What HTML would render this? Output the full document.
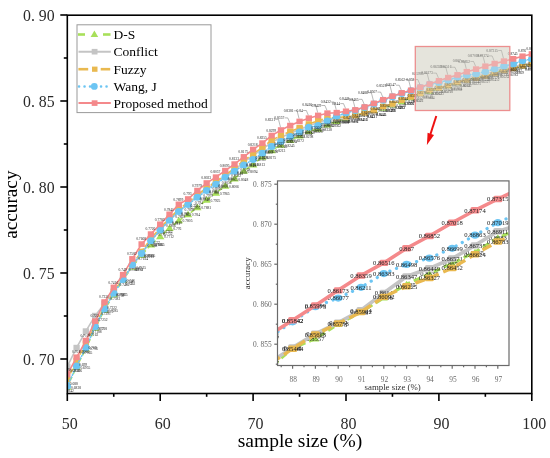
<!DOCTYPE html><html><head><meta charset="utf-8"><style>html,body{margin:0;padding:0;background:#fff;width:550px;height:458px;overflow:hidden}svg{display:block}text{font-family:"Liberation Serif",serif}</style></head><body>
<svg width="550" height="458" viewBox="0 0 550 458">
<rect width="550" height="458" fill="#fff"/>
<defs><clipPath id="cm"><rect x="67.3" y="15" width="464.5" height="378.5"/></clipPath><clipPath id="ci"><rect x="277.5" y="180.9" width="231.5" height="184.6"/></clipPath></defs>
<rect x="415.3" y="46.5" width="94.5" height="64" fill="#e6e4dc"/>
<g clip-path="url(#cm)">
<polyline points="67.3,386.86 76.59,366.74 85.88,348.68 95.17,328.04 104.46,309.98 113.75,294.5 123.04,279.88 132.33,266.98 141.62,254.94 150.91,244.62 160.2,236.54 169.49,228.28 178.78,220.54 188.07,214.52 197.36,207.47 206.65,199.9 215.94,193.02 225.23,185.97 234.52,178.74 243.81,170.83 253.1,164.64 262.39,156.9 271.68,150.36 280.97,144.86 290.26,140.22 299.55,135.74 308.84,131.1 318.13,128.86 327.42,124.74 336.71,121.12 346,118.54 355.29,115.1 364.58,112.7 373.87,110.29 383.16,107.88 392.45,104.78 401.74,101.34 411.03,97.56 420.32,93.26 429.61,91.2 438.9,88.1 448.19,85.52 457.48,82.42 466.77,79.5 476.06,77.26 485.35,75.03 494.64,72.62 503.93,69.52 513.22,67.46 522.51,65.4 531.8,63.5" fill="none" stroke="#a8e05a" stroke-width="1.6" stroke-dasharray="4 3" stroke-linecap="butt"/>
<polygon points="67.3,383.06 63.1,389.66 71.5,389.66" fill="#a8e05a"/>
<polygon points="76.59,362.94 72.39,369.54 80.79,369.54" fill="#a8e05a"/>
<polygon points="85.88,344.88 81.68,351.48 90.08,351.48" fill="#a8e05a"/>
<polygon points="95.17,324.24 90.97,330.84 99.37,330.84" fill="#a8e05a"/>
<polygon points="104.46,306.18 100.26,312.78 108.66,312.78" fill="#a8e05a"/>
<polygon points="113.75,290.7 109.55,297.3 117.95,297.3" fill="#a8e05a"/>
<polygon points="123.04,276.08 118.84,282.68 127.24,282.68" fill="#a8e05a"/>
<polygon points="132.33,263.18 128.13,269.78 136.53,269.78" fill="#a8e05a"/>
<polygon points="141.62,251.14 137.42,257.74 145.82,257.74" fill="#a8e05a"/>
<polygon points="150.91,240.82 146.71,247.42 155.11,247.42" fill="#a8e05a"/>
<polygon points="160.2,232.74 156,239.34 164.4,239.34" fill="#a8e05a"/>
<polygon points="169.49,224.48 165.29,231.08 173.69,231.08" fill="#a8e05a"/>
<polygon points="178.78,216.74 174.58,223.34 182.98,223.34" fill="#a8e05a"/>
<polygon points="188.07,210.72 183.87,217.32 192.27,217.32" fill="#a8e05a"/>
<polygon points="197.36,203.67 193.16,210.27 201.56,210.27" fill="#a8e05a"/>
<polygon points="206.65,196.1 202.45,202.7 210.85,202.7" fill="#a8e05a"/>
<polygon points="215.94,189.22 211.74,195.82 220.14,195.82" fill="#a8e05a"/>
<polygon points="225.23,182.17 221.03,188.77 229.43,188.77" fill="#a8e05a"/>
<polygon points="234.52,174.94 230.32,181.54 238.72,181.54" fill="#a8e05a"/>
<polygon points="243.81,167.03 239.61,173.63 248.01,173.63" fill="#a8e05a"/>
<polygon points="253.1,160.84 248.9,167.44 257.3,167.44" fill="#a8e05a"/>
<polygon points="262.39,153.1 258.19,159.7 266.59,159.7" fill="#a8e05a"/>
<polygon points="271.68,146.56 267.48,153.16 275.88,153.16" fill="#a8e05a"/>
<polygon points="280.97,141.06 276.77,147.66 285.17,147.66" fill="#a8e05a"/>
<polygon points="290.26,136.42 286.06,143.02 294.46,143.02" fill="#a8e05a"/>
<polygon points="299.55,131.94 295.35,138.54 303.75,138.54" fill="#a8e05a"/>
<polygon points="308.84,127.3 304.64,133.9 313.04,133.9" fill="#a8e05a"/>
<polygon points="318.13,125.06 313.93,131.66 322.33,131.66" fill="#a8e05a"/>
<polygon points="327.42,120.94 323.22,127.54 331.62,127.54" fill="#a8e05a"/>
<polygon points="336.71,117.32 332.51,123.92 340.91,123.92" fill="#a8e05a"/>
<polygon points="346,114.74 341.8,121.34 350.2,121.34" fill="#a8e05a"/>
<polygon points="355.29,111.3 351.09,117.9 359.49,117.9" fill="#a8e05a"/>
<polygon points="364.58,108.9 360.38,115.5 368.78,115.5" fill="#a8e05a"/>
<polygon points="373.87,106.49 369.67,113.09 378.07,113.09" fill="#a8e05a"/>
<polygon points="383.16,104.08 378.96,110.68 387.36,110.68" fill="#a8e05a"/>
<polygon points="392.45,100.98 388.25,107.58 396.65,107.58" fill="#a8e05a"/>
<polygon points="401.74,97.54 397.54,104.14 405.94,104.14" fill="#a8e05a"/>
<polygon points="411.03,93.76 406.83,100.36 415.23,100.36" fill="#a8e05a"/>
<polygon points="420.32,89.46 416.12,96.06 424.52,96.06" fill="#a8e05a"/>
<polygon points="429.61,87.4 425.41,94 433.81,94" fill="#a8e05a"/>
<polygon points="438.9,84.3 434.7,90.9 443.1,90.9" fill="#a8e05a"/>
<polygon points="448.19,81.72 443.99,88.32 452.39,88.32" fill="#a8e05a"/>
<polygon points="457.48,78.62 453.28,85.22 461.68,85.22" fill="#a8e05a"/>
<polygon points="466.77,75.7 462.57,82.3 470.97,82.3" fill="#a8e05a"/>
<polygon points="476.06,73.46 471.86,80.06 480.26,80.06" fill="#a8e05a"/>
<polygon points="485.35,71.23 481.15,77.83 489.55,77.83" fill="#a8e05a"/>
<polygon points="494.64,68.82 490.44,75.42 498.84,75.42" fill="#a8e05a"/>
<polygon points="503.93,65.72 499.73,72.32 508.13,72.32" fill="#a8e05a"/>
<polygon points="513.22,63.66 509.02,70.26 517.42,70.26" fill="#a8e05a"/>
<polygon points="522.51,61.6 518.31,68.2 526.71,68.2" fill="#a8e05a"/>
<polygon points="531.8,59.7 527.6,66.3 536,66.3" fill="#a8e05a"/>
<polyline points="67.3,366.57 76.59,347.65 85.88,331.14 95.17,315.66 104.46,303.62 113.75,291.06 123.04,279.54 132.33,266.12 141.62,253.22 150.91,241.18 160.2,229.66 169.49,219.68 178.78,210.74 188.07,203.34 197.36,195.94 206.65,189.06 215.94,182.7 225.23,176.16 234.52,169.8 243.81,162.06 253.1,155.52 262.39,149.16 271.68,142.28 280.97,137.46 290.26,133.16 299.55,129.55 308.84,125.77 318.13,122.5 327.42,119.58 336.71,118.54 346,117.51 355.29,115.96 364.58,113.04 373.87,110.46 383.16,106.85 392.45,103.92 401.74,99.97 411.03,96.36 420.32,93.09 429.61,90.16 438.9,87.76 448.19,85.11 457.48,81.39 466.77,77.83 476.06,76.08 485.35,73.98 494.64,71.16 503.93,68.13 513.22,66.6 522.51,64.54 531.8,62.82" fill="none" stroke="#c4c4c4" stroke-width="1.6" stroke-linecap="butt"/>
<rect x="64.15" y="363.72" width="6.3" height="5.7" fill="#c4c4c4"/>
<rect x="73.44" y="344.8" width="6.3" height="5.7" fill="#c4c4c4"/>
<rect x="82.73" y="328.29" width="6.3" height="5.7" fill="#c4c4c4"/>
<rect x="92.02" y="312.81" width="6.3" height="5.7" fill="#c4c4c4"/>
<rect x="101.31" y="300.77" width="6.3" height="5.7" fill="#c4c4c4"/>
<rect x="110.6" y="288.21" width="6.3" height="5.7" fill="#c4c4c4"/>
<rect x="119.89" y="276.69" width="6.3" height="5.7" fill="#c4c4c4"/>
<rect x="129.18" y="263.27" width="6.3" height="5.7" fill="#c4c4c4"/>
<rect x="138.47" y="250.37" width="6.3" height="5.7" fill="#c4c4c4"/>
<rect x="147.76" y="238.33" width="6.3" height="5.7" fill="#c4c4c4"/>
<rect x="157.05" y="226.81" width="6.3" height="5.7" fill="#c4c4c4"/>
<rect x="166.34" y="216.83" width="6.3" height="5.7" fill="#c4c4c4"/>
<rect x="175.63" y="207.89" width="6.3" height="5.7" fill="#c4c4c4"/>
<rect x="184.92" y="200.49" width="6.3" height="5.7" fill="#c4c4c4"/>
<rect x="194.21" y="193.09" width="6.3" height="5.7" fill="#c4c4c4"/>
<rect x="203.5" y="186.21" width="6.3" height="5.7" fill="#c4c4c4"/>
<rect x="212.79" y="179.85" width="6.3" height="5.7" fill="#c4c4c4"/>
<rect x="222.08" y="173.31" width="6.3" height="5.7" fill="#c4c4c4"/>
<rect x="231.37" y="166.95" width="6.3" height="5.7" fill="#c4c4c4"/>
<rect x="240.66" y="159.21" width="6.3" height="5.7" fill="#c4c4c4"/>
<rect x="249.95" y="152.67" width="6.3" height="5.7" fill="#c4c4c4"/>
<rect x="259.24" y="146.31" width="6.3" height="5.7" fill="#c4c4c4"/>
<rect x="268.53" y="139.43" width="6.3" height="5.7" fill="#c4c4c4"/>
<rect x="277.82" y="134.61" width="6.3" height="5.7" fill="#c4c4c4"/>
<rect x="287.11" y="130.31" width="6.3" height="5.7" fill="#c4c4c4"/>
<rect x="296.4" y="126.7" width="6.3" height="5.7" fill="#c4c4c4"/>
<rect x="305.69" y="122.92" width="6.3" height="5.7" fill="#c4c4c4"/>
<rect x="314.98" y="119.65" width="6.3" height="5.7" fill="#c4c4c4"/>
<rect x="324.27" y="116.73" width="6.3" height="5.7" fill="#c4c4c4"/>
<rect x="333.56" y="115.69" width="6.3" height="5.7" fill="#c4c4c4"/>
<rect x="342.85" y="114.66" width="6.3" height="5.7" fill="#c4c4c4"/>
<rect x="352.14" y="113.11" width="6.3" height="5.7" fill="#c4c4c4"/>
<rect x="361.43" y="110.19" width="6.3" height="5.7" fill="#c4c4c4"/>
<rect x="370.72" y="107.61" width="6.3" height="5.7" fill="#c4c4c4"/>
<rect x="380.01" y="104" width="6.3" height="5.7" fill="#c4c4c4"/>
<rect x="389.3" y="101.07" width="6.3" height="5.7" fill="#c4c4c4"/>
<rect x="398.59" y="97.12" width="6.3" height="5.7" fill="#c4c4c4"/>
<rect x="407.88" y="93.51" width="6.3" height="5.7" fill="#c4c4c4"/>
<rect x="417.17" y="90.24" width="6.3" height="5.7" fill="#c4c4c4"/>
<rect x="426.46" y="87.31" width="6.3" height="5.7" fill="#c4c4c4"/>
<rect x="435.75" y="84.91" width="6.3" height="5.7" fill="#c4c4c4"/>
<rect x="445.04" y="82.26" width="6.3" height="5.7" fill="#c4c4c4"/>
<rect x="454.33" y="78.54" width="6.3" height="5.7" fill="#c4c4c4"/>
<rect x="463.62" y="74.98" width="6.3" height="5.7" fill="#c4c4c4"/>
<rect x="472.91" y="73.23" width="6.3" height="5.7" fill="#c4c4c4"/>
<rect x="482.2" y="71.13" width="6.3" height="5.7" fill="#c4c4c4"/>
<rect x="491.49" y="68.31" width="6.3" height="5.7" fill="#c4c4c4"/>
<rect x="500.78" y="65.28" width="6.3" height="5.7" fill="#c4c4c4"/>
<rect x="510.07" y="63.75" width="6.3" height="5.7" fill="#c4c4c4"/>
<rect x="519.36" y="61.69" width="6.3" height="5.7" fill="#c4c4c4"/>
<rect x="528.65" y="59.97" width="6.3" height="5.7" fill="#c4c4c4"/>
<polyline points="67.3,379.64 76.59,360.72 85.88,343.52 95.17,324.6 104.46,307.4 113.75,291.92 123.04,278.16 132.33,264.4 141.62,251.5 150.91,238.6 160.2,227.94 169.49,218.3 178.78,209.36 188.07,202.14 197.36,194.74 206.65,187.86 215.94,181.5 225.23,174.96 234.52,168.42 243.81,160.51 253.1,153.98 262.39,147.44 271.68,140.22 280.97,135.57 290.26,131.27 299.55,127.83 308.84,124.05 318.13,120.78 327.42,118.03 336.71,117.51 346,116.82 355.29,115.45 364.58,112.87 373.87,110.46 383.16,106.5 392.45,103.92 401.74,100.14 411.03,96.7 420.32,93.36 429.61,90.28 438.9,87.96 448.19,85.49 457.48,82.22 466.77,79.93 476.06,78.18 485.35,76.03 494.64,73.07 503.93,70.33 513.22,68.32 522.51,65.74 531.8,64.02" fill="none" stroke="#e9b950" stroke-width="1.6" stroke-dasharray="5 2" stroke-linecap="butt"/>
<rect x="64.15" y="376.79" width="6.3" height="5.7" fill="#e9b950"/>
<rect x="73.44" y="357.87" width="6.3" height="5.7" fill="#e9b950"/>
<rect x="82.73" y="340.67" width="6.3" height="5.7" fill="#e9b950"/>
<rect x="92.02" y="321.75" width="6.3" height="5.7" fill="#e9b950"/>
<rect x="101.31" y="304.55" width="6.3" height="5.7" fill="#e9b950"/>
<rect x="110.6" y="289.07" width="6.3" height="5.7" fill="#e9b950"/>
<rect x="119.89" y="275.31" width="6.3" height="5.7" fill="#e9b950"/>
<rect x="129.18" y="261.55" width="6.3" height="5.7" fill="#e9b950"/>
<rect x="138.47" y="248.65" width="6.3" height="5.7" fill="#e9b950"/>
<rect x="147.76" y="235.75" width="6.3" height="5.7" fill="#e9b950"/>
<rect x="157.05" y="225.09" width="6.3" height="5.7" fill="#e9b950"/>
<rect x="166.34" y="215.45" width="6.3" height="5.7" fill="#e9b950"/>
<rect x="175.63" y="206.51" width="6.3" height="5.7" fill="#e9b950"/>
<rect x="184.92" y="199.29" width="6.3" height="5.7" fill="#e9b950"/>
<rect x="194.21" y="191.89" width="6.3" height="5.7" fill="#e9b950"/>
<rect x="203.5" y="185.01" width="6.3" height="5.7" fill="#e9b950"/>
<rect x="212.79" y="178.65" width="6.3" height="5.7" fill="#e9b950"/>
<rect x="222.08" y="172.11" width="6.3" height="5.7" fill="#e9b950"/>
<rect x="231.37" y="165.57" width="6.3" height="5.7" fill="#e9b950"/>
<rect x="240.66" y="157.66" width="6.3" height="5.7" fill="#e9b950"/>
<rect x="249.95" y="151.13" width="6.3" height="5.7" fill="#e9b950"/>
<rect x="259.24" y="144.59" width="6.3" height="5.7" fill="#e9b950"/>
<rect x="268.53" y="137.37" width="6.3" height="5.7" fill="#e9b950"/>
<rect x="277.82" y="132.72" width="6.3" height="5.7" fill="#e9b950"/>
<rect x="287.11" y="128.42" width="6.3" height="5.7" fill="#e9b950"/>
<rect x="296.4" y="124.98" width="6.3" height="5.7" fill="#e9b950"/>
<rect x="305.69" y="121.2" width="6.3" height="5.7" fill="#e9b950"/>
<rect x="314.98" y="117.93" width="6.3" height="5.7" fill="#e9b950"/>
<rect x="324.27" y="115.18" width="6.3" height="5.7" fill="#e9b950"/>
<rect x="333.56" y="114.66" width="6.3" height="5.7" fill="#e9b950"/>
<rect x="342.85" y="113.97" width="6.3" height="5.7" fill="#e9b950"/>
<rect x="352.14" y="112.6" width="6.3" height="5.7" fill="#e9b950"/>
<rect x="361.43" y="110.02" width="6.3" height="5.7" fill="#e9b950"/>
<rect x="370.72" y="107.61" width="6.3" height="5.7" fill="#e9b950"/>
<rect x="380.01" y="103.65" width="6.3" height="5.7" fill="#e9b950"/>
<rect x="389.3" y="101.07" width="6.3" height="5.7" fill="#e9b950"/>
<rect x="398.59" y="97.29" width="6.3" height="5.7" fill="#e9b950"/>
<rect x="407.88" y="93.85" width="6.3" height="5.7" fill="#e9b950"/>
<rect x="417.17" y="90.51" width="6.3" height="5.7" fill="#e9b950"/>
<rect x="426.46" y="87.43" width="6.3" height="5.7" fill="#e9b950"/>
<rect x="435.75" y="85.11" width="6.3" height="5.7" fill="#e9b950"/>
<rect x="445.04" y="82.64" width="6.3" height="5.7" fill="#e9b950"/>
<rect x="454.33" y="79.37" width="6.3" height="5.7" fill="#e9b950"/>
<rect x="463.62" y="77.08" width="6.3" height="5.7" fill="#e9b950"/>
<rect x="472.91" y="75.33" width="6.3" height="5.7" fill="#e9b950"/>
<rect x="482.2" y="73.18" width="6.3" height="5.7" fill="#e9b950"/>
<rect x="491.49" y="70.22" width="6.3" height="5.7" fill="#e9b950"/>
<rect x="500.78" y="67.48" width="6.3" height="5.7" fill="#e9b950"/>
<rect x="510.07" y="65.47" width="6.3" height="5.7" fill="#e9b950"/>
<rect x="519.36" y="62.89" width="6.3" height="5.7" fill="#e9b950"/>
<rect x="528.65" y="61.17" width="6.3" height="5.7" fill="#e9b950"/>
<polyline points="67.3,386.18 76.59,365.88 85.88,347.82 95.17,326.66 104.46,308.95 113.75,293.3 123.04,279.54 132.33,264.74 141.62,253.39 150.91,240.66 160.2,230 169.49,220.37 178.78,211.42 188.07,204.54 197.36,197.32 206.65,190.61 215.94,184.25 225.23,177.37 234.52,171.18 243.81,164.98 253.1,159.48 262.39,153.29 271.68,146.41 280.97,141.42 290.26,136.43 299.55,131.96 308.84,127.32 318.13,125.6 327.42,120.95 336.71,116.14 346,113.04 355.29,110.46 364.58,107.54 373.87,103.92 383.16,100.31 392.45,96.7 401.74,93.43 411.03,90.85 420.32,87.58 429.61,84.32 438.9,82.48 448.19,80.17 457.48,77.21 466.77,75.23 476.06,73.89 485.35,71.78 494.64,68.96 503.93,66.27 513.22,64.02 522.51,60.75 531.8,59.03" fill="none" stroke="#6cc5f3" stroke-width="1.6" stroke-dasharray="1 2" stroke-linecap="round"/>
<ellipse cx="67.3" cy="386.18" rx="3.8" ry="3.5" fill="#6cc5f3"/>
<ellipse cx="76.59" cy="365.88" rx="3.8" ry="3.5" fill="#6cc5f3"/>
<ellipse cx="85.88" cy="347.82" rx="3.8" ry="3.5" fill="#6cc5f3"/>
<ellipse cx="95.17" cy="326.66" rx="3.8" ry="3.5" fill="#6cc5f3"/>
<ellipse cx="104.46" cy="308.95" rx="3.8" ry="3.5" fill="#6cc5f3"/>
<ellipse cx="113.75" cy="293.3" rx="3.8" ry="3.5" fill="#6cc5f3"/>
<ellipse cx="123.04" cy="279.54" rx="3.8" ry="3.5" fill="#6cc5f3"/>
<ellipse cx="132.33" cy="264.74" rx="3.8" ry="3.5" fill="#6cc5f3"/>
<ellipse cx="141.62" cy="253.39" rx="3.8" ry="3.5" fill="#6cc5f3"/>
<ellipse cx="150.91" cy="240.66" rx="3.8" ry="3.5" fill="#6cc5f3"/>
<ellipse cx="160.2" cy="230" rx="3.8" ry="3.5" fill="#6cc5f3"/>
<ellipse cx="169.49" cy="220.37" rx="3.8" ry="3.5" fill="#6cc5f3"/>
<ellipse cx="178.78" cy="211.42" rx="3.8" ry="3.5" fill="#6cc5f3"/>
<ellipse cx="188.07" cy="204.54" rx="3.8" ry="3.5" fill="#6cc5f3"/>
<ellipse cx="197.36" cy="197.32" rx="3.8" ry="3.5" fill="#6cc5f3"/>
<ellipse cx="206.65" cy="190.61" rx="3.8" ry="3.5" fill="#6cc5f3"/>
<ellipse cx="215.94" cy="184.25" rx="3.8" ry="3.5" fill="#6cc5f3"/>
<ellipse cx="225.23" cy="177.37" rx="3.8" ry="3.5" fill="#6cc5f3"/>
<ellipse cx="234.52" cy="171.18" rx="3.8" ry="3.5" fill="#6cc5f3"/>
<ellipse cx="243.81" cy="164.98" rx="3.8" ry="3.5" fill="#6cc5f3"/>
<ellipse cx="253.1" cy="159.48" rx="3.8" ry="3.5" fill="#6cc5f3"/>
<ellipse cx="262.39" cy="153.29" rx="3.8" ry="3.5" fill="#6cc5f3"/>
<ellipse cx="271.68" cy="146.41" rx="3.8" ry="3.5" fill="#6cc5f3"/>
<ellipse cx="280.97" cy="141.42" rx="3.8" ry="3.5" fill="#6cc5f3"/>
<ellipse cx="290.26" cy="136.43" rx="3.8" ry="3.5" fill="#6cc5f3"/>
<ellipse cx="299.55" cy="131.96" rx="3.8" ry="3.5" fill="#6cc5f3"/>
<ellipse cx="308.84" cy="127.32" rx="3.8" ry="3.5" fill="#6cc5f3"/>
<ellipse cx="318.13" cy="125.6" rx="3.8" ry="3.5" fill="#6cc5f3"/>
<ellipse cx="327.42" cy="120.95" rx="3.8" ry="3.5" fill="#6cc5f3"/>
<ellipse cx="336.71" cy="116.14" rx="3.8" ry="3.5" fill="#6cc5f3"/>
<ellipse cx="346" cy="113.04" rx="3.8" ry="3.5" fill="#6cc5f3"/>
<ellipse cx="355.29" cy="110.46" rx="3.8" ry="3.5" fill="#6cc5f3"/>
<ellipse cx="364.58" cy="107.54" rx="3.8" ry="3.5" fill="#6cc5f3"/>
<ellipse cx="373.87" cy="103.92" rx="3.8" ry="3.5" fill="#6cc5f3"/>
<ellipse cx="383.16" cy="100.31" rx="3.8" ry="3.5" fill="#6cc5f3"/>
<ellipse cx="392.45" cy="96.7" rx="3.8" ry="3.5" fill="#6cc5f3"/>
<ellipse cx="401.74" cy="93.43" rx="3.8" ry="3.5" fill="#6cc5f3"/>
<ellipse cx="411.03" cy="90.85" rx="3.8" ry="3.5" fill="#6cc5f3"/>
<ellipse cx="420.32" cy="87.58" rx="3.8" ry="3.5" fill="#6cc5f3"/>
<ellipse cx="429.61" cy="84.32" rx="3.8" ry="3.5" fill="#6cc5f3"/>
<ellipse cx="438.9" cy="82.48" rx="3.8" ry="3.5" fill="#6cc5f3"/>
<ellipse cx="448.19" cy="80.17" rx="3.8" ry="3.5" fill="#6cc5f3"/>
<ellipse cx="457.48" cy="77.21" rx="3.8" ry="3.5" fill="#6cc5f3"/>
<ellipse cx="466.77" cy="75.23" rx="3.8" ry="3.5" fill="#6cc5f3"/>
<ellipse cx="476.06" cy="73.89" rx="3.8" ry="3.5" fill="#6cc5f3"/>
<ellipse cx="485.35" cy="71.78" rx="3.8" ry="3.5" fill="#6cc5f3"/>
<ellipse cx="494.64" cy="68.96" rx="3.8" ry="3.5" fill="#6cc5f3"/>
<ellipse cx="503.93" cy="66.27" rx="3.8" ry="3.5" fill="#6cc5f3"/>
<ellipse cx="513.22" cy="64.02" rx="3.8" ry="3.5" fill="#6cc5f3"/>
<ellipse cx="522.51" cy="60.75" rx="3.8" ry="3.5" fill="#6cc5f3"/>
<ellipse cx="531.8" cy="59.03" rx="3.8" ry="3.5" fill="#6cc5f3"/>
<polyline points="67.3,374.48 76.59,357.28 85.88,340.6 95.17,321.16 104.46,302.07 113.75,287.45 123.04,274.72 132.33,258.9 141.62,244.1 150.91,234.13 160.2,224.32 169.49,214.35 178.78,204.37 188.07,199.04 197.36,190.61 206.65,183.04 215.94,177.2 225.23,170.66 234.52,164.12 243.81,156.9 253.1,149.5 262.39,143.14 271.68,135.57 280.97,130.07 290.26,125.6 299.55,121.47 308.84,118.2 318.13,115.45 327.42,113.21 336.71,112.7 346,111.32 355.29,109.94 364.58,107.02 373.87,103.41 383.16,99.8 392.45,96.18 401.74,92.92 411.03,90.34 420.32,87.24 429.61,84.06 438.9,80.82 448.19,77.63 457.48,74.92 466.77,71.76 476.06,69.15 485.35,66.29 494.64,63.61 503.93,61.18 513.22,58.86 522.51,56.28 531.8,54.04" fill="none" stroke="#f4898b" stroke-width="1.6" stroke-linecap="butt"/>
<rect x="64.15" y="371.63" width="6.3" height="5.7" fill="#f4898b"/>
<rect x="73.44" y="354.43" width="6.3" height="5.7" fill="#f4898b"/>
<rect x="82.73" y="337.75" width="6.3" height="5.7" fill="#f4898b"/>
<rect x="92.02" y="318.31" width="6.3" height="5.7" fill="#f4898b"/>
<rect x="101.31" y="299.22" width="6.3" height="5.7" fill="#f4898b"/>
<rect x="110.6" y="284.6" width="6.3" height="5.7" fill="#f4898b"/>
<rect x="119.89" y="271.87" width="6.3" height="5.7" fill="#f4898b"/>
<rect x="129.18" y="256.05" width="6.3" height="5.7" fill="#f4898b"/>
<rect x="138.47" y="241.25" width="6.3" height="5.7" fill="#f4898b"/>
<rect x="147.76" y="231.28" width="6.3" height="5.7" fill="#f4898b"/>
<rect x="157.05" y="221.47" width="6.3" height="5.7" fill="#f4898b"/>
<rect x="166.34" y="211.5" width="6.3" height="5.7" fill="#f4898b"/>
<rect x="175.63" y="201.52" width="6.3" height="5.7" fill="#f4898b"/>
<rect x="184.92" y="196.19" width="6.3" height="5.7" fill="#f4898b"/>
<rect x="194.21" y="187.76" width="6.3" height="5.7" fill="#f4898b"/>
<rect x="203.5" y="180.19" width="6.3" height="5.7" fill="#f4898b"/>
<rect x="212.79" y="174.35" width="6.3" height="5.7" fill="#f4898b"/>
<rect x="222.08" y="167.81" width="6.3" height="5.7" fill="#f4898b"/>
<rect x="231.37" y="161.27" width="6.3" height="5.7" fill="#f4898b"/>
<rect x="240.66" y="154.05" width="6.3" height="5.7" fill="#f4898b"/>
<rect x="249.95" y="146.65" width="6.3" height="5.7" fill="#f4898b"/>
<rect x="259.24" y="140.29" width="6.3" height="5.7" fill="#f4898b"/>
<rect x="268.53" y="132.72" width="6.3" height="5.7" fill="#f4898b"/>
<rect x="277.82" y="127.22" width="6.3" height="5.7" fill="#f4898b"/>
<rect x="287.11" y="122.75" width="6.3" height="5.7" fill="#f4898b"/>
<rect x="296.4" y="118.62" width="6.3" height="5.7" fill="#f4898b"/>
<rect x="305.69" y="115.35" width="6.3" height="5.7" fill="#f4898b"/>
<rect x="314.98" y="112.6" width="6.3" height="5.7" fill="#f4898b"/>
<rect x="324.27" y="110.36" width="6.3" height="5.7" fill="#f4898b"/>
<rect x="333.56" y="109.85" width="6.3" height="5.7" fill="#f4898b"/>
<rect x="342.85" y="108.47" width="6.3" height="5.7" fill="#f4898b"/>
<rect x="352.14" y="107.09" width="6.3" height="5.7" fill="#f4898b"/>
<rect x="361.43" y="104.17" width="6.3" height="5.7" fill="#f4898b"/>
<rect x="370.72" y="100.56" width="6.3" height="5.7" fill="#f4898b"/>
<rect x="380.01" y="96.95" width="6.3" height="5.7" fill="#f4898b"/>
<rect x="389.3" y="93.33" width="6.3" height="5.7" fill="#f4898b"/>
<rect x="398.59" y="90.07" width="6.3" height="5.7" fill="#f4898b"/>
<rect x="407.88" y="87.49" width="6.3" height="5.7" fill="#f4898b"/>
<rect x="417.17" y="84.39" width="6.3" height="5.7" fill="#f4898b"/>
<rect x="426.46" y="81.21" width="6.3" height="5.7" fill="#f4898b"/>
<rect x="435.75" y="77.97" width="6.3" height="5.7" fill="#f4898b"/>
<rect x="445.04" y="74.78" width="6.3" height="5.7" fill="#f4898b"/>
<rect x="454.33" y="72.07" width="6.3" height="5.7" fill="#f4898b"/>
<rect x="463.62" y="68.91" width="6.3" height="5.7" fill="#f4898b"/>
<rect x="472.91" y="66.3" width="6.3" height="5.7" fill="#f4898b"/>
<rect x="482.2" y="63.44" width="6.3" height="5.7" fill="#f4898b"/>
<rect x="491.49" y="60.76" width="6.3" height="5.7" fill="#f4898b"/>
<rect x="500.78" y="58.33" width="6.3" height="5.7" fill="#f4898b"/>
<rect x="510.07" y="56.01" width="6.3" height="5.7" fill="#f4898b"/>
<rect x="519.36" y="53.43" width="6.3" height="5.7" fill="#f4898b"/>
<rect x="528.65" y="51.19" width="6.3" height="5.7" fill="#f4898b"/>
<text x="71.1" y="388.66" font-size="3.6" fill="#262626">0.6838</text>
<text x="80.39" y="368.54" font-size="3.6" fill="#262626">0.6955</text>
<text x="89.68" y="350.48" font-size="3.6" fill="#262626">0.706</text>
<text x="98.97" y="329.84" font-size="3.6" fill="#262626">0.718</text>
<text x="108.26" y="311.78" font-size="3.6" fill="#262626">0.7285</text>
<text x="117.55" y="296.3" font-size="3.6" fill="#262626">0.7375</text>
<text x="126.84" y="281.68" font-size="3.6" fill="#262626">0.746</text>
<text x="136.13" y="268.78" font-size="3.6" fill="#262626">0.7535</text>
<text x="145.42" y="256.74" font-size="3.6" fill="#262626">0.7605</text>
<text x="154.71" y="246.42" font-size="3.6" fill="#262626">0.7665</text>
<text x="164" y="238.34" font-size="3.6" fill="#262626">0.7712</text>
<text x="173.29" y="230.08" font-size="3.6" fill="#262626">0.776</text>
<text x="182.58" y="222.34" font-size="3.6" fill="#262626">0.7805</text>
<text x="191.87" y="216.32" font-size="3.6" fill="#262626">0.784</text>
<text x="201.16" y="209.27" font-size="3.6" fill="#262626">0.7881</text>
<text x="210.45" y="201.7" font-size="3.6" fill="#262626">0.7925</text>
<text x="219.74" y="194.82" font-size="3.6" fill="#262626">0.7965</text>
<text x="229.03" y="187.77" font-size="3.6" fill="#262626">0.8006</text>
<text x="238.32" y="180.54" font-size="3.6" fill="#262626">0.8048</text>
<text x="247.61" y="172.63" font-size="3.6" fill="#262626">0.8094</text>
<text x="256.9" y="166.44" font-size="3.6" fill="#262626">0.813</text>
<text x="266.19" y="158.7" font-size="3.6" fill="#262626">0.8175</text>
<text x="275.48" y="152.16" font-size="3.6" fill="#262626">0.8213</text>
<text x="284.77" y="146.66" font-size="3.6" fill="#262626">0.8245</text>
<text x="294.06" y="142.02" font-size="3.6" fill="#262626">0.8272</text>
<text x="303.35" y="137.54" font-size="3.6" fill="#262626">0.8298</text>
<text x="312.64" y="132.9" font-size="3.6" fill="#262626">0.8325</text>
<text x="321.93" y="130.66" font-size="3.6" fill="#262626">0.8338</text>
<text x="331.22" y="126.54" font-size="3.6" fill="#262626">0.8362</text>
<text x="340.51" y="122.92" font-size="3.6" fill="#262626">0.8383</text>
<text x="349.8" y="120.34" font-size="3.6" fill="#262626">0.8398</text>
<text x="359.09" y="116.9" font-size="3.6" fill="#262626">0.8418</text>
<text x="368.38" y="114.5" font-size="3.6" fill="#262626">0.8432</text>
<text x="377.67" y="112.09" font-size="3.6" fill="#262626">0.8446</text>
<text x="386.96" y="109.68" font-size="3.6" fill="#262626">0.846</text>
<text x="396.25" y="106.58" font-size="3.6" fill="#262626">0.8478</text>
<text x="405.54" y="103.14" font-size="3.6" fill="#262626">0.8498</text>
<text x="414.83" y="99.36" font-size="3.6" fill="#262626">0.852</text>
<text x="424.12" y="95.06" font-size="3.6" fill="#262626">0.8545</text>
<text x="433.41" y="93" font-size="3.6" fill="#262626">0.8557</text>
<text x="442.7" y="89.9" font-size="3.6" fill="#262626">0.8575</text>
<text x="451.99" y="87.32" font-size="3.6" fill="#262626">0.859</text>
<text x="461.28" y="84.22" font-size="3.6" fill="#262626">0.8608</text>
<text x="470.57" y="81.3" font-size="3.6" fill="#262626">0.8625</text>
<text x="479.86" y="79.06" font-size="3.6" fill="#262626">0.8638</text>
<text x="489.15" y="76.83" font-size="3.6" fill="#262626">0.8651</text>
<text x="498.44" y="74.42" font-size="3.6" fill="#262626">0.8665</text>
<text x="507.73" y="71.32" font-size="3.6" fill="#262626">0.8683</text>
<text x="517.02" y="69.26" font-size="3.6" fill="#262626">0.8695</text>
<text x="526.31" y="67.2" font-size="3.6" fill="#262626">0.8707</text>
<text x="535.6" y="65.3" font-size="3.6" fill="#262626">0.8718</text>
<text x="69.8" y="371.77" font-size="3.6" fill="#262626">0.6956</text>
<text x="79.09" y="352.85" font-size="3.6" fill="#262626">0.7066</text>
<text x="88.38" y="336.34" font-size="3.6" fill="#262626">0.7162</text>
<text x="97.67" y="320.86" font-size="3.6" fill="#262626">0.7252</text>
<text x="106.96" y="308.82" font-size="3.6" fill="#262626">0.7322</text>
<text x="116.25" y="296.26" font-size="3.6" fill="#262626">0.7395</text>
<text x="125.54" y="284.74" font-size="3.6" fill="#262626">0.7462</text>
<text x="134.83" y="271.32" font-size="3.6" fill="#262626">0.754</text>
<text x="144.12" y="258.42" font-size="3.6" fill="#262626">0.7615</text>
<text x="153.41" y="246.38" font-size="3.6" fill="#262626">0.7685</text>
<text x="162.7" y="234.86" font-size="3.6" fill="#262626">0.7752</text>
<text x="171.99" y="224.88" font-size="3.6" fill="#262626">0.781</text>
<text x="181.28" y="215.94" font-size="3.6" fill="#262626">0.7862</text>
<text x="190.57" y="208.54" font-size="3.6" fill="#262626">0.7905</text>
<text x="199.86" y="201.14" font-size="3.6" fill="#262626">0.7948</text>
<text x="209.15" y="194.26" font-size="3.6" fill="#262626">0.7988</text>
<text x="218.44" y="187.9" font-size="3.6" fill="#262626">0.8025</text>
<text x="227.73" y="181.36" font-size="3.6" fill="#262626">0.8063</text>
<text x="237.02" y="175" font-size="3.6" fill="#262626">0.81</text>
<text x="246.31" y="167.26" font-size="3.6" fill="#262626">0.8145</text>
<text x="255.6" y="160.72" font-size="3.6" fill="#262626">0.8183</text>
<text x="264.89" y="154.36" font-size="3.6" fill="#262626">0.822</text>
<text x="274.18" y="147.48" font-size="3.6" fill="#262626">0.826</text>
<text x="283.47" y="142.66" font-size="3.6" fill="#262626">0.8288</text>
<text x="292.76" y="138.36" font-size="3.6" fill="#262626">0.8313</text>
<text x="302.05" y="134.75" font-size="3.6" fill="#262626">0.8334</text>
<text x="311.34" y="130.97" font-size="3.6" fill="#262626">0.8356</text>
<text x="320.63" y="127.7" font-size="3.6" fill="#262626">0.8375</text>
<text x="329.92" y="124.78" font-size="3.6" fill="#262626">0.8392</text>
<text x="339.21" y="123.74" font-size="3.6" fill="#262626">0.8398</text>
<text x="348.5" y="122.71" font-size="3.6" fill="#262626">0.8404</text>
<text x="357.79" y="121.16" font-size="3.6" fill="#262626">0.8413</text>
<text x="367.08" y="118.24" font-size="3.6" fill="#262626">0.843</text>
<text x="376.37" y="115.66" font-size="3.6" fill="#262626">0.8445</text>
<text x="385.66" y="112.05" font-size="3.6" fill="#262626">0.8466</text>
<text x="394.95" y="109.12" font-size="3.6" fill="#262626">0.8483</text>
<text x="404.24" y="105.17" font-size="3.6" fill="#262626">0.8506</text>
<text x="413.53" y="101.56" font-size="3.6" fill="#262626">0.8527</text>
<text x="422.82" y="98.29" font-size="3.6" fill="#262626">0.8546</text>
<text x="432.11" y="95.36" font-size="3.6" fill="#262626">0.8563</text>
<text x="441.4" y="92.96" font-size="3.6" fill="#262626">0.8577</text>
<text x="450.69" y="90.31" font-size="3.6" fill="#262626">0.85924</text>
<text x="459.98" y="86.59" font-size="3.6" fill="#262626">0.8614</text>
<text x="469.27" y="83.03" font-size="3.6" fill="#262626">0.86347</text>
<text x="478.56" y="81.28" font-size="3.6" fill="#262626">0.86449</text>
<text x="487.85" y="79.18" font-size="3.6" fill="#262626">0.86571</text>
<text x="497.14" y="76.36" font-size="3.6" fill="#262626">0.86735</text>
<text x="506.43" y="73.33" font-size="3.6" fill="#262626">0.86911</text>
<text x="515.72" y="71.8" font-size="3.6" fill="#262626">0.87</text>
<text x="525.01" y="69.74" font-size="3.6" fill="#262626">0.8712</text>
<text x="534.3" y="68.02" font-size="3.6" fill="#262626">0.8722</text>
<text x="69.8" y="384.84" font-size="3.6" fill="#262626">0.688</text>
<text x="79.09" y="365.92" font-size="3.6" fill="#262626">0.699</text>
<text x="88.38" y="348.72" font-size="3.6" fill="#262626">0.709</text>
<text x="97.67" y="329.8" font-size="3.6" fill="#262626">0.72</text>
<text x="106.96" y="312.6" font-size="3.6" fill="#262626">0.73</text>
<text x="116.25" y="297.12" font-size="3.6" fill="#262626">0.739</text>
<text x="125.54" y="283.36" font-size="3.6" fill="#262626">0.747</text>
<text x="134.83" y="269.6" font-size="3.6" fill="#262626">0.755</text>
<text x="144.12" y="256.7" font-size="3.6" fill="#262626">0.7625</text>
<text x="153.41" y="243.8" font-size="3.6" fill="#262626">0.77</text>
<text x="162.7" y="233.14" font-size="3.6" fill="#262626">0.7762</text>
<text x="171.99" y="223.5" font-size="3.6" fill="#262626">0.7818</text>
<text x="181.28" y="214.56" font-size="3.6" fill="#262626">0.787</text>
<text x="190.57" y="207.34" font-size="3.6" fill="#262626">0.7912</text>
<text x="199.86" y="199.94" font-size="3.6" fill="#262626">0.7955</text>
<text x="209.15" y="193.06" font-size="3.6" fill="#262626">0.7995</text>
<text x="218.44" y="186.7" font-size="3.6" fill="#262626">0.8032</text>
<text x="227.73" y="180.16" font-size="3.6" fill="#262626">0.807</text>
<text x="237.02" y="173.62" font-size="3.6" fill="#262626">0.8108</text>
<text x="246.31" y="165.71" font-size="3.6" fill="#262626">0.8154</text>
<text x="255.6" y="159.18" font-size="3.6" fill="#262626">0.8192</text>
<text x="264.89" y="152.64" font-size="3.6" fill="#262626">0.823</text>
<text x="274.18" y="145.42" font-size="3.6" fill="#262626">0.8272</text>
<text x="283.47" y="140.77" font-size="3.6" fill="#262626">0.8299</text>
<text x="292.76" y="136.47" font-size="3.6" fill="#262626">0.8324</text>
<text x="302.05" y="133.03" font-size="3.6" fill="#262626">0.8344</text>
<text x="311.34" y="129.25" font-size="3.6" fill="#262626">0.8366</text>
<text x="320.63" y="125.98" font-size="3.6" fill="#262626">0.8385</text>
<text x="329.92" y="123.23" font-size="3.6" fill="#262626">0.8401</text>
<text x="339.21" y="122.71" font-size="3.6" fill="#262626">0.8404</text>
<text x="348.5" y="122.02" font-size="3.6" fill="#262626">0.8408</text>
<text x="357.79" y="120.65" font-size="3.6" fill="#262626">0.8416</text>
<text x="367.08" y="118.07" font-size="3.6" fill="#262626">0.8431</text>
<text x="376.37" y="115.66" font-size="3.6" fill="#262626">0.8445</text>
<text x="385.66" y="111.7" font-size="3.6" fill="#262626">0.8468</text>
<text x="394.95" y="109.12" font-size="3.6" fill="#262626">0.8483</text>
<text x="404.24" y="105.34" font-size="3.6" fill="#262626">0.8505</text>
<text x="413.53" y="101.9" font-size="3.6" fill="#262626">0.8525</text>
<text x="422.82" y="98.56" font-size="3.6" fill="#262626">0.85444</text>
<text x="432.11" y="95.48" font-size="3.6" fill="#262626">0.85623</text>
<text x="441.4" y="93.16" font-size="3.6" fill="#262626">0.85758</text>
<text x="450.69" y="90.69" font-size="3.6" fill="#262626">0.85902</text>
<text x="459.98" y="87.42" font-size="3.6" fill="#262626">0.86092</text>
<text x="469.27" y="85.13" font-size="3.6" fill="#262626">0.86225</text>
<text x="478.56" y="83.38" font-size="3.6" fill="#262626">0.86327</text>
<text x="487.85" y="81.23" font-size="3.6" fill="#262626">0.86452</text>
<text x="497.14" y="78.27" font-size="3.6" fill="#262626">0.86624</text>
<text x="506.43" y="75.53" font-size="3.6" fill="#262626">0.86783</text>
<text x="515.72" y="73.52" font-size="3.6" fill="#262626">0.869</text>
<text x="525.01" y="70.94" font-size="3.6" fill="#262626">0.8705</text>
<text x="534.3" y="69.22" font-size="3.6" fill="#262626">0.8715</text>
<text x="68.8" y="392.38" font-size="3.6" fill="#262626" text-anchor="middle">0.6842</text>
<text x="78.09" y="372.08" font-size="3.6" fill="#262626" text-anchor="middle">0.696</text>
<text x="87.38" y="354.02" font-size="3.6" fill="#262626" text-anchor="middle">0.7065</text>
<text x="96.67" y="332.86" font-size="3.6" fill="#262626" text-anchor="middle">0.7188</text>
<text x="105.96" y="315.15" font-size="3.6" fill="#262626" text-anchor="middle">0.7291</text>
<text x="115.25" y="299.5" font-size="3.6" fill="#262626" text-anchor="middle">0.7382</text>
<text x="124.54" y="285.74" font-size="3.6" fill="#262626" text-anchor="middle">0.7462</text>
<text x="133.83" y="270.94" font-size="3.6" fill="#262626" text-anchor="middle">0.7548</text>
<text x="143.12" y="259.59" font-size="3.6" fill="#262626" text-anchor="middle">0.7614</text>
<text x="152.41" y="246.86" font-size="3.6" fill="#262626" text-anchor="middle">0.7688</text>
<text x="161.7" y="236.2" font-size="3.6" fill="#262626" text-anchor="middle">0.775</text>
<text x="170.99" y="226.57" font-size="3.6" fill="#262626" text-anchor="middle">0.7806</text>
<text x="180.28" y="217.62" font-size="3.6" fill="#262626" text-anchor="middle">0.7858</text>
<text x="189.57" y="210.74" font-size="3.6" fill="#262626" text-anchor="middle">0.7898</text>
<text x="198.86" y="203.52" font-size="3.6" fill="#262626" text-anchor="middle">0.794</text>
<text x="208.15" y="196.81" font-size="3.6" fill="#262626" text-anchor="middle">0.7979</text>
<text x="217.44" y="190.45" font-size="3.6" fill="#262626" text-anchor="middle">0.8016</text>
<text x="226.73" y="183.57" font-size="3.6" fill="#262626" text-anchor="middle">0.8056</text>
<text x="236.02" y="177.38" font-size="3.6" fill="#262626" text-anchor="middle">0.8092</text>
<text x="245.31" y="171.18" font-size="3.6" fill="#262626" text-anchor="middle">0.8128</text>
<text x="254.6" y="165.68" font-size="3.6" fill="#262626" text-anchor="middle">0.816</text>
<text x="263.89" y="159.49" font-size="3.6" fill="#262626" text-anchor="middle">0.8196</text>
<text x="273.18" y="152.61" font-size="3.6" fill="#262626" text-anchor="middle">0.8236</text>
<text x="282.47" y="147.62" font-size="3.6" fill="#262626" text-anchor="middle">0.8265</text>
<text x="291.76" y="142.63" font-size="3.6" fill="#262626" text-anchor="middle">0.8294</text>
<text x="301.05" y="138.16" font-size="3.6" fill="#262626" text-anchor="middle">0.832</text>
<text x="310.34" y="133.52" font-size="3.6" fill="#262626" text-anchor="middle">0.8347</text>
<text x="319.63" y="131.8" font-size="3.6" fill="#262626" text-anchor="middle">0.8357</text>
<text x="328.92" y="127.15" font-size="3.6" fill="#262626" text-anchor="middle">0.8384</text>
<text x="338.21" y="122.34" font-size="3.6" fill="#262626" text-anchor="middle">0.8412</text>
<text x="347.5" y="119.24" font-size="3.6" fill="#262626" text-anchor="middle">0.843</text>
<text x="356.79" y="116.66" font-size="3.6" fill="#262626" text-anchor="middle">0.8445</text>
<text x="366.08" y="113.74" font-size="3.6" fill="#262626" text-anchor="middle">0.8462</text>
<text x="375.37" y="110.12" font-size="3.6" fill="#262626" text-anchor="middle">0.8483</text>
<text x="384.66" y="106.51" font-size="3.6" fill="#262626" text-anchor="middle">0.8504</text>
<text x="393.95" y="102.9" font-size="3.6" fill="#262626" text-anchor="middle">0.8525</text>
<text x="403.24" y="99.63" font-size="3.6" fill="#262626" text-anchor="middle">0.8544</text>
<text x="412.53" y="97.05" font-size="3.6" fill="#262626" text-anchor="middle">0.8559</text>
<text x="421.82" y="93.78" font-size="3.6" fill="#262626" text-anchor="middle">0.8578</text>
<text x="431.11" y="90.52" font-size="3.6" fill="#262626" text-anchor="middle">0.8597</text>
<text x="440.4" y="88.68" font-size="3.6" fill="#262626" text-anchor="middle">0.86077</text>
<text x="449.69" y="86.37" font-size="3.6" fill="#262626" text-anchor="middle">0.86211</text>
<text x="458.98" y="83.41" font-size="3.6" fill="#262626" text-anchor="middle">0.86383</text>
<text x="468.27" y="81.43" font-size="3.6" fill="#262626" text-anchor="middle">0.86498</text>
<text x="477.56" y="80.09" font-size="3.6" fill="#262626" text-anchor="middle">0.86576</text>
<text x="486.85" y="77.98" font-size="3.6" fill="#262626" text-anchor="middle">0.86699</text>
<text x="496.14" y="75.16" font-size="3.6" fill="#262626" text-anchor="middle">0.86863</text>
<text x="505.43" y="72.47" font-size="3.6" fill="#262626" text-anchor="middle">0.87019</text>
<text x="514.72" y="70.22" font-size="3.6" fill="#262626" text-anchor="middle">0.8715</text>
<text x="524.01" y="66.95" font-size="3.6" fill="#262626" text-anchor="middle">0.8734</text>
<text x="533.3" y="65.23" font-size="3.6" fill="#262626" text-anchor="middle">0.8744</text>
<text x="66.8" y="370.68" font-size="3.6" fill="#262626" text-anchor="middle">0.691</text>
<text x="76.09" y="353.48" font-size="3.6" fill="#262626" text-anchor="middle">0.701</text>
<text x="85.38" y="336.8" font-size="3.6" fill="#262626" text-anchor="middle">0.7107</text>
<text x="94.67" y="317.36" font-size="3.6" fill="#262626" text-anchor="middle">0.722</text>
<text x="103.96" y="298.27" font-size="3.6" fill="#262626" text-anchor="middle">0.7331</text>
<text x="113.25" y="283.65" font-size="3.6" fill="#262626" text-anchor="middle">0.7416</text>
<text x="122.54" y="270.92" font-size="3.6" fill="#262626" text-anchor="middle">0.749</text>
<text x="131.83" y="255.1" font-size="3.6" fill="#262626" text-anchor="middle">0.7582</text>
<text x="141.12" y="240.3" font-size="3.6" fill="#262626" text-anchor="middle">0.7668</text>
<text x="150.41" y="230.33" font-size="3.6" fill="#262626" text-anchor="middle">0.7726</text>
<text x="159.7" y="220.52" font-size="3.6" fill="#262626" text-anchor="middle">0.7783</text>
<text x="168.99" y="210.55" font-size="3.6" fill="#262626" text-anchor="middle">0.7841</text>
<text x="178.28" y="200.57" font-size="3.6" fill="#262626" text-anchor="middle">0.7899</text>
<text x="187.57" y="195.24" font-size="3.6" fill="#262626" text-anchor="middle">0.793</text>
<text x="196.86" y="186.81" font-size="3.6" fill="#262626" text-anchor="middle">0.7979</text>
<text x="206.15" y="179.24" font-size="3.6" fill="#262626" text-anchor="middle">0.8023</text>
<text x="215.44" y="173.4" font-size="3.6" fill="#262626" text-anchor="middle">0.8057</text>
<text x="224.73" y="166.86" font-size="3.6" fill="#262626" text-anchor="middle">0.8095</text>
<text x="234.02" y="160.32" font-size="3.6" fill="#262626" text-anchor="middle">0.8133</text>
<text x="243.31" y="153.1" font-size="3.6" fill="#262626" text-anchor="middle">0.8175</text>
<text x="252.6" y="145.7" font-size="3.6" fill="#262626" text-anchor="middle">0.8218</text>
<text x="261.89" y="139.34" font-size="3.6" fill="#262626" text-anchor="middle">0.8255</text>
<text x="271.18" y="131.77" font-size="3.6" fill="#262626" text-anchor="middle">0.8299</text>
<text x="274.97" y="120.57" font-size="3.6" fill="#262626" text-anchor="end">0.8331</text>
<path d="M275.27,119.37 L278.47,119.37 L280.47,127.07" stroke="#333" stroke-width="0.35" fill="none"/>
<text x="284.26" y="119.1" font-size="3.6" fill="#262626" text-anchor="end">0.8357</text>
<path d="M284.56,117.9 L287.76,117.9 L289.76,122.6" stroke="#333" stroke-width="0.35" fill="none"/>
<text x="293.55" y="111.97" font-size="3.6" fill="#262626" text-anchor="end">0.8381</text>
<path d="M293.85,110.77 L297.05,110.77 L299.05,118.47" stroke="#333" stroke-width="0.35" fill="none"/>
<text x="302.84" y="111.7" font-size="3.6" fill="#262626" text-anchor="end">0.84</text>
<path d="M303.14,110.5 L306.34,110.5 L308.34,115.2" stroke="#333" stroke-width="0.35" fill="none"/>
<text x="312.13" y="105.95" font-size="3.6" fill="#262626" text-anchor="end">0.8416</text>
<path d="M312.43,104.75 L315.63,104.75 L317.63,112.45" stroke="#333" stroke-width="0.35" fill="none"/>
<text x="321.42" y="106.71" font-size="3.6" fill="#262626" text-anchor="end">0.8429</text>
<path d="M321.72,105.51 L324.92,105.51 L326.92,110.21" stroke="#333" stroke-width="0.35" fill="none"/>
<text x="330.71" y="103.2" font-size="3.6" fill="#262626" text-anchor="end">0.8432</text>
<path d="M331.01,102 L334.21,102 L336.21,109.7" stroke="#333" stroke-width="0.35" fill="none"/>
<text x="340" y="104.82" font-size="3.6" fill="#262626" text-anchor="end">0.844</text>
<path d="M340.3,103.62 L343.5,103.62 L345.5,108.32" stroke="#333" stroke-width="0.35" fill="none"/>
<text x="349.29" y="100.44" font-size="3.6" fill="#262626" text-anchor="end">0.8448</text>
<path d="M349.59,99.24 L352.79,99.24 L354.79,106.94" stroke="#333" stroke-width="0.35" fill="none"/>
<text x="358.58" y="100.52" font-size="3.6" fill="#262626" text-anchor="end">0.8465</text>
<path d="M358.88,99.32 L362.08,99.32 L364.08,104.02" stroke="#333" stroke-width="0.35" fill="none"/>
<text x="367.87" y="93.91" font-size="3.6" fill="#262626" text-anchor="end">0.8486</text>
<path d="M368.17,92.71 L371.37,92.71 L373.37,100.41" stroke="#333" stroke-width="0.35" fill="none"/>
<text x="377.16" y="93.3" font-size="3.6" fill="#262626" text-anchor="end">0.8507</text>
<path d="M377.46,92.1 L380.66,92.1 L382.66,96.8" stroke="#333" stroke-width="0.35" fill="none"/>
<text x="386.45" y="86.68" font-size="3.6" fill="#262626" text-anchor="end">0.8528</text>
<path d="M386.75,85.48 L389.95,85.48 L391.95,93.18" stroke="#333" stroke-width="0.35" fill="none"/>
<text x="395.74" y="86.42" font-size="3.6" fill="#262626" text-anchor="end">0.8547</text>
<path d="M396.04,85.22 L399.24,85.22 L401.24,89.92" stroke="#333" stroke-width="0.35" fill="none"/>
<text x="405.03" y="80.84" font-size="3.6" fill="#262626" text-anchor="end">0.8562</text>
<path d="M405.33,79.64 L408.53,79.64 L410.53,87.34" stroke="#333" stroke-width="0.35" fill="none"/>
<text x="414.32" y="80.74" font-size="3.6" fill="#262626" text-anchor="end">0.858</text>
<path d="M414.62,79.54 L417.82,79.54 L419.82,84.24" stroke="#333" stroke-width="0.35" fill="none"/>
<text x="423.61" y="74.56" font-size="3.6" fill="#262626" text-anchor="end">0.85985</text>
<path d="M423.91,73.36 L427.11,73.36 L429.11,81.06" stroke="#333" stroke-width="0.35" fill="none"/>
<text x="432.9" y="74.32" font-size="3.6" fill="#262626" text-anchor="end">0.86173</text>
<path d="M433.2,73.12 L436.4,73.12 L438.4,77.82" stroke="#333" stroke-width="0.35" fill="none"/>
<text x="442.19" y="68.13" font-size="3.6" fill="#262626" text-anchor="end">0.86359</text>
<path d="M442.49,66.93 L445.69,66.93 L447.69,74.63" stroke="#333" stroke-width="0.35" fill="none"/>
<text x="451.48" y="68.42" font-size="3.6" fill="#262626" text-anchor="end">0.86516</text>
<path d="M451.78,67.22 L454.98,67.22 L456.98,71.92" stroke="#333" stroke-width="0.35" fill="none"/>
<text x="460.77" y="62.26" font-size="3.6" fill="#262626" text-anchor="end">0.867</text>
<path d="M461.07,61.06 L464.27,61.06 L466.27,68.76" stroke="#333" stroke-width="0.35" fill="none"/>
<text x="470.06" y="62.65" font-size="3.6" fill="#262626" text-anchor="end">0.86852</text>
<path d="M470.36,61.45 L473.56,61.45 L475.56,66.15" stroke="#333" stroke-width="0.35" fill="none"/>
<text x="479.35" y="56.79" font-size="3.6" fill="#262626" text-anchor="end">0.87018</text>
<path d="M479.65,55.59 L482.85,55.59 L484.85,63.29" stroke="#333" stroke-width="0.35" fill="none"/>
<text x="488.64" y="57.11" font-size="3.6" fill="#262626" text-anchor="end">0.87174</text>
<path d="M488.94,55.91 L492.14,55.91 L494.14,60.61" stroke="#333" stroke-width="0.35" fill="none"/>
<text x="497.93" y="51.68" font-size="3.6" fill="#262626" text-anchor="end">0.87315</text>
<path d="M498.23,50.48 L501.43,50.48 L503.43,58.18" stroke="#333" stroke-width="0.35" fill="none"/>
<text x="512.72" y="55.06" font-size="3.6" fill="#262626" text-anchor="middle">0.8745</text>
<text x="522.01" y="52.48" font-size="3.6" fill="#262626" text-anchor="middle">0.876</text>
<text x="531.3" y="50.24" font-size="3.6" fill="#262626" text-anchor="middle">0.8773</text>
</g>
<rect x="415.3" y="46.5" width="94.5" height="64" fill="#e6e4dc" fill-opacity="0.38" stroke="#ec8f8f" stroke-width="1.3"/>
<line x1="436.3" y1="116" x2="430.5" y2="134" stroke="#ee1111" stroke-width="2"/>
<polygon points="426.9,145 427.6,132.8 434,135" fill="#ee1111"/>
<g stroke="#000" stroke-width="1.6" fill="none">
<rect x="67.3" y="15.2" width="464.5" height="378.3"/>
<line x1="60.3" y1="15" x2="67.3" y2="15"/>
<line x1="60.3" y1="101" x2="67.3" y2="101"/>
<line x1="60.3" y1="187" x2="67.3" y2="187"/>
<line x1="60.3" y1="273" x2="67.3" y2="273"/>
<line x1="60.3" y1="359" x2="67.3" y2="359"/>
<line x1="63.8" y1="58" x2="67.3" y2="58"/>
<line x1="63.8" y1="144" x2="67.3" y2="144"/>
<line x1="63.8" y1="230" x2="67.3" y2="230"/>
<line x1="63.8" y1="316" x2="67.3" y2="316"/>
<line x1="67.3" y1="393.5" x2="67.3" y2="401"/>
<line x1="160.2" y1="393.5" x2="160.2" y2="401"/>
<line x1="253.1" y1="393.5" x2="253.1" y2="401"/>
<line x1="346" y1="393.5" x2="346" y2="401"/>
<line x1="438.9" y1="393.5" x2="438.9" y2="401"/>
<line x1="531.8" y1="393.5" x2="531.8" y2="401"/>
<line x1="113.75" y1="393.5" x2="113.75" y2="396.8"/>
<line x1="206.65" y1="393.5" x2="206.65" y2="396.8"/>
<line x1="299.55" y1="393.5" x2="299.55" y2="396.8"/>
<line x1="392.45" y1="393.5" x2="392.45" y2="396.8"/>
<line x1="485.35" y1="393.5" x2="485.35" y2="396.8"/>
</g>
<text x="54.6" y="21.3" font-size="15.8" fill="#2a2a2a" text-anchor="end">0. 90</text>
<text x="54.6" y="107.3" font-size="15.8" fill="#2a2a2a" text-anchor="end">0. 85</text>
<text x="54.6" y="193.3" font-size="15.8" fill="#2a2a2a" text-anchor="end">0. 80</text>
<text x="54.6" y="279.3" font-size="15.8" fill="#2a2a2a" text-anchor="end">0. 75</text>
<text x="54.6" y="365.3" font-size="15.8" fill="#2a2a2a" text-anchor="end">0. 70</text>
<text x="69.8" y="429.4" font-size="16" fill="#2a2a2a" text-anchor="middle">50</text>
<text x="162.7" y="429.4" font-size="16" fill="#2a2a2a" text-anchor="middle">60</text>
<text x="255.6" y="429.4" font-size="16" fill="#2a2a2a" text-anchor="middle">70</text>
<text x="348.5" y="429.4" font-size="16" fill="#2a2a2a" text-anchor="middle">80</text>
<text x="441.4" y="429.4" font-size="16" fill="#2a2a2a" text-anchor="middle">90</text>
<text x="534.3" y="429.4" font-size="16" fill="#2a2a2a" text-anchor="middle">100</text>
<text x="300" y="446.5" font-size="19.5" fill="#000" text-anchor="middle">sample size (%)</text>
<text transform="translate(16.5,204.6) rotate(-90)" font-size="19.2" fill="#000" text-anchor="middle">accuracy</text>
<rect x="77" y="24.8" width="134" height="87.8" fill="#fff" stroke="#9a9a9a" stroke-width="1"/>
<line x1="78" y1="34.5" x2="85" y2="34.5" stroke="#a8e05a" stroke-width="2.6"/>
<line x1="103" y1="34.5" x2="110.5" y2="34.5" stroke="#a8e05a" stroke-width="2.6"/>
<polygon points="94.4,30.5 90.6,37.1 98.2,37.1" fill="#a8e05a"/>
<text x="113.6" y="39.1" font-size="13.5" fill="#000">D-S</text>
<line x1="78.5" y1="51.7" x2="110.8" y2="51.7" stroke="#c4c4c4" stroke-width="2"/>
<rect x="91.7" y="48.9" width="5.8" height="5.6" fill="#c4c4c4"/>
<text x="113.6" y="56.3" font-size="13.5" fill="#000">Conflict</text>
<line x1="78.4" y1="69.2" x2="88.2" y2="69.2" stroke="#e9b950" stroke-width="2.6"/>
<line x1="100.7" y1="69.2" x2="110.2" y2="69.2" stroke="#e9b950" stroke-width="2.6"/>
<rect x="92" y="66.6" width="5.5" height="5.2" fill="#e9b950"/>
<text x="113.6" y="73.8" font-size="13.5" fill="#000">Fuzzy</text>
<line x1="79" y1="86.4" x2="110" y2="86.4" stroke="#6cc5f3" stroke-width="2.5" stroke-dasharray="0.1 5.4" stroke-linecap="round"/>
<circle cx="94.3" cy="86.4" r="3.4" fill="#6cc5f3"/>
<text x="113.6" y="91" font-size="13.5" fill="#000">Wang, J</text>
<line x1="78.5" y1="103.1" x2="110.8" y2="103.1" stroke="#f4898b" stroke-width="2"/>
<rect x="91.7" y="100.3" width="5.8" height="5.6" fill="#f4898b"/>
<text x="113.6" y="107.7" font-size="13.5" fill="#000">Proposed method</text>
<rect x="277.5" y="180.9" width="231.5" height="184.6" fill="#fff"/>
<g clip-path="url(#ci)">
<polyline points="247,385.8 269.8,368.2 292.6,348.2 315.4,338.6 338.2,324.2 361,312.2 383.8,297.8 406.6,284.2 429.4,273.8 452.2,263.4 475,252.2 497.8,237.8 520.6,228.2 543.4,218.6" fill="none" stroke="#a8e05a" stroke-width="3.0" stroke-dasharray="7 4" stroke-linecap="butt"/>
<polygon points="269.8,364.7 265.8,371 273.8,371" fill="#a8e05a"/>
<polygon points="292.6,344.7 288.6,351 296.6,351" fill="#a8e05a"/>
<polygon points="315.4,335.1 311.4,341.4 319.4,341.4" fill="#a8e05a"/>
<polygon points="338.2,320.7 334.2,327 342.2,327" fill="#a8e05a"/>
<polygon points="361,308.7 357,315 365,315" fill="#a8e05a"/>
<polygon points="383.8,294.3 379.8,300.6 387.8,300.6" fill="#a8e05a"/>
<polygon points="406.6,280.7 402.6,287 410.6,287" fill="#a8e05a"/>
<polygon points="429.4,270.3 425.4,276.6 433.4,276.6" fill="#a8e05a"/>
<polygon points="452.2,259.9 448.2,266.2 456.2,266.2" fill="#a8e05a"/>
<polygon points="475,248.7 471,255 479,255" fill="#a8e05a"/>
<polygon points="497.8,234.3 493.8,240.6 501.8,240.6" fill="#a8e05a"/>
<polygon points="520.6,224.7 516.6,231 524.6,231" fill="#a8e05a"/>
<text x="269.8" y="370.5" font-size="6.6" fill="#222" text-anchor="middle">0.852</text>
<text x="292.6" y="350.5" font-size="6.6" fill="#222" text-anchor="middle">0.8545</text>
<text x="315.4" y="340.9" font-size="6.6" fill="#222" text-anchor="middle">0.8557</text>
<text x="338.2" y="326.5" font-size="6.6" fill="#222" text-anchor="middle">0.8575</text>
<text x="361" y="314.5" font-size="6.6" fill="#222" text-anchor="middle">0.859</text>
<text x="383.8" y="300.1" font-size="6.6" fill="#222" text-anchor="middle">0.8608</text>
<text x="406.6" y="286.5" font-size="6.6" fill="#222" text-anchor="middle">0.8625</text>
<text x="429.4" y="276.1" font-size="6.6" fill="#222" text-anchor="middle">0.8638</text>
<text x="452.2" y="265.7" font-size="6.6" fill="#222" text-anchor="middle">0.8651</text>
<text x="475" y="254.5" font-size="6.6" fill="#222" text-anchor="middle">0.8665</text>
<text x="497.8" y="240.1" font-size="6.6" fill="#222" text-anchor="middle">0.8683</text>
<text x="520.6" y="230.5" font-size="6.6" fill="#222" text-anchor="middle">0.8695</text>
<polyline points="247,379.4 269.8,362.6 292.6,347.4 315.4,333.8 338.2,322.6 361,310.28 383.8,293 406.6,276.44 429.4,268.28 452.2,258.52 475,245.4 497.8,231.32 520.6,224.2 543.4,214.6" fill="none" stroke="#c4c4c4" stroke-width="3.6" stroke-linecap="butt"/>
<rect x="265.3" y="359.4" width="9" height="6.4" rx="1.5" fill="#c4c4c4"/>
<rect x="288.1" y="344.2" width="9" height="6.4" rx="1.5" fill="#c4c4c4"/>
<rect x="310.9" y="330.6" width="9" height="6.4" rx="1.5" fill="#c4c4c4"/>
<rect x="333.7" y="319.4" width="9" height="6.4" rx="1.5" fill="#c4c4c4"/>
<rect x="356.5" y="307.08" width="9" height="6.4" rx="1.5" fill="#c4c4c4"/>
<rect x="379.3" y="289.8" width="9" height="6.4" rx="1.5" fill="#c4c4c4"/>
<rect x="402.1" y="273.24" width="9" height="6.4" rx="1.5" fill="#c4c4c4"/>
<rect x="424.9" y="265.08" width="9" height="6.4" rx="1.5" fill="#c4c4c4"/>
<rect x="447.7" y="255.32" width="9" height="6.4" rx="1.5" fill="#c4c4c4"/>
<rect x="470.5" y="242.2" width="9" height="6.4" rx="1.5" fill="#c4c4c4"/>
<rect x="493.3" y="228.12" width="9" height="6.4" rx="1.5" fill="#c4c4c4"/>
<rect x="516.1" y="221" width="9" height="6.4" rx="1.5" fill="#c4c4c4"/>
<text x="269.8" y="364.9" font-size="6.6" fill="#222" text-anchor="middle">0.8527</text>
<text x="292.6" y="349.7" font-size="6.6" fill="#222" text-anchor="middle">0.8546</text>
<text x="315.4" y="336.1" font-size="6.6" fill="#222" text-anchor="middle">0.8563</text>
<text x="338.2" y="324.9" font-size="6.6" fill="#222" text-anchor="middle">0.8577</text>
<text x="361" y="312.58" font-size="6.6" fill="#222" text-anchor="middle">0.85924</text>
<text x="383.8" y="295.3" font-size="6.6" fill="#222" text-anchor="middle">0.8614</text>
<text x="406.6" y="278.74" font-size="6.6" fill="#222" text-anchor="middle">0.86347</text>
<text x="429.4" y="270.58" font-size="6.6" fill="#222" text-anchor="middle">0.86449</text>
<text x="452.2" y="260.82" font-size="6.6" fill="#222" text-anchor="middle">0.86571</text>
<text x="475" y="247.7" font-size="6.6" fill="#222" text-anchor="middle">0.86735</text>
<text x="497.8" y="233.62" font-size="6.6" fill="#222" text-anchor="middle">0.86911</text>
<text x="520.6" y="226.5" font-size="6.6" fill="#222" text-anchor="middle">0.87</text>
<polyline points="247,380.2 269.8,364.2 292.6,348.68 315.4,334.36 338.2,323.56 361,312.04 383.8,296.84 406.6,286.2 429.4,278.04 452.2,268.04 475,254.28 497.8,241.56 520.6,232.2 543.4,220.2" fill="none" stroke="#e9b950" stroke-width="3.4" stroke-dasharray="10 5" stroke-linecap="butt"/>
<rect x="265.3" y="361" width="9" height="6.4" rx="1.5" fill="#e9b950"/>
<rect x="288.1" y="345.48" width="9" height="6.4" rx="1.5" fill="#e9b950"/>
<rect x="310.9" y="331.16" width="9" height="6.4" rx="1.5" fill="#e9b950"/>
<rect x="333.7" y="320.36" width="9" height="6.4" rx="1.5" fill="#e9b950"/>
<rect x="356.5" y="308.84" width="9" height="6.4" rx="1.5" fill="#e9b950"/>
<rect x="379.3" y="293.64" width="9" height="6.4" rx="1.5" fill="#e9b950"/>
<rect x="402.1" y="283" width="9" height="6.4" rx="1.5" fill="#e9b950"/>
<rect x="424.9" y="274.84" width="9" height="6.4" rx="1.5" fill="#e9b950"/>
<rect x="447.7" y="264.84" width="9" height="6.4" rx="1.5" fill="#e9b950"/>
<rect x="470.5" y="251.08" width="9" height="6.4" rx="1.5" fill="#e9b950"/>
<rect x="493.3" y="238.36" width="9" height="6.4" rx="1.5" fill="#e9b950"/>
<rect x="516.1" y="229" width="9" height="6.4" rx="1.5" fill="#e9b950"/>
<text x="269.8" y="366.5" font-size="6.6" fill="#222" text-anchor="middle">0.8525</text>
<text x="292.6" y="350.98" font-size="6.6" fill="#222" text-anchor="middle">0.85444</text>
<text x="315.4" y="336.66" font-size="6.6" fill="#222" text-anchor="middle">0.85623</text>
<text x="338.2" y="325.86" font-size="6.6" fill="#222" text-anchor="middle">0.85758</text>
<text x="361" y="314.34" font-size="6.6" fill="#222" text-anchor="middle">0.85902</text>
<text x="383.8" y="299.14" font-size="6.6" fill="#222" text-anchor="middle">0.86092</text>
<text x="406.6" y="288.5" font-size="6.6" fill="#222" text-anchor="middle">0.86225</text>
<text x="429.4" y="280.34" font-size="6.6" fill="#222" text-anchor="middle">0.86327</text>
<text x="452.2" y="270.34" font-size="6.6" fill="#222" text-anchor="middle">0.86452</text>
<text x="475" y="256.58" font-size="6.6" fill="#222" text-anchor="middle">0.86624</text>
<text x="497.8" y="243.86" font-size="6.6" fill="#222" text-anchor="middle">0.86783</text>
<text x="520.6" y="234.5" font-size="6.6" fill="#222" text-anchor="middle">0.869</text>
<polyline points="247,349 269.8,337 292.6,321.8 315.4,306.6 338.2,298.04 361,287.32 383.8,273.56 406.6,264.36 429.4,258.12 452.2,248.28 475,235.16 497.8,222.68 520.6,212.2 543.4,197" fill="none" stroke="#6cc5f3" stroke-width="3.2" stroke-dasharray="0.1 7" stroke-linecap="round"/>
<ellipse cx="269.8" cy="337" rx="4.6" ry="3.6" fill="#6cc5f3"/>
<ellipse cx="292.6" cy="321.8" rx="4.6" ry="3.6" fill="#6cc5f3"/>
<ellipse cx="315.4" cy="306.6" rx="4.6" ry="3.6" fill="#6cc5f3"/>
<ellipse cx="338.2" cy="298.04" rx="4.6" ry="3.6" fill="#6cc5f3"/>
<ellipse cx="361" cy="287.32" rx="4.6" ry="3.6" fill="#6cc5f3"/>
<ellipse cx="383.8" cy="273.56" rx="4.6" ry="3.6" fill="#6cc5f3"/>
<ellipse cx="406.6" cy="264.36" rx="4.6" ry="3.6" fill="#6cc5f3"/>
<ellipse cx="429.4" cy="258.12" rx="4.6" ry="3.6" fill="#6cc5f3"/>
<ellipse cx="452.2" cy="248.28" rx="4.6" ry="3.6" fill="#6cc5f3"/>
<ellipse cx="475" cy="235.16" rx="4.6" ry="3.6" fill="#6cc5f3"/>
<ellipse cx="497.8" cy="222.68" rx="4.6" ry="3.6" fill="#6cc5f3"/>
<ellipse cx="520.6" cy="212.2" rx="4.6" ry="3.6" fill="#6cc5f3"/>
<text x="269.8" y="339.3" font-size="6.6" fill="#222" text-anchor="middle">0.8559</text>
<text x="292.6" y="322.8" font-size="6.6" fill="#222" text-anchor="middle">0.85842</text>
<text x="315.4" y="308.9" font-size="6.6" fill="#222" text-anchor="middle">0.85975</text>
<text x="338.2" y="300.34" font-size="6.6" fill="#222" text-anchor="middle">0.86077</text>
<text x="361" y="289.62" font-size="6.6" fill="#222" text-anchor="middle">0.86211</text>
<text x="383.8" y="275.86" font-size="6.6" fill="#222" text-anchor="middle">0.86383</text>
<text x="406.6" y="266.66" font-size="6.6" fill="#222" text-anchor="middle">0.86498</text>
<text x="429.4" y="260.42" font-size="6.6" fill="#222" text-anchor="middle">0.86576</text>
<text x="452.2" y="250.58" font-size="6.6" fill="#222" text-anchor="middle">0.86699</text>
<text x="475" y="237.46" font-size="6.6" fill="#222" text-anchor="middle">0.86863</text>
<text x="497.8" y="224.98" font-size="6.6" fill="#222" text-anchor="middle">0.87019</text>
<text x="520.6" y="214.5" font-size="6.6" fill="#222" text-anchor="middle">0.8715</text>
<polyline points="247,346.6 269.8,334.6 292.6,320.2 315.4,305.4 338.2,290.36 361,275.48 383.8,262.92 406.6,248.2 429.4,236.04 452.2,222.76 475,210.28 497.8,199 520.6,188.2 543.4,176.2" fill="none" stroke="#f4898b" stroke-width="3.6" stroke-linecap="butt"/>
<rect x="265.3" y="331.4" width="9" height="6.4" rx="1.5" fill="#f4898b"/>
<rect x="288.1" y="317" width="9" height="6.4" rx="1.5" fill="#f4898b"/>
<rect x="310.9" y="302.2" width="9" height="6.4" rx="1.5" fill="#f4898b"/>
<rect x="333.7" y="287.16" width="9" height="6.4" rx="1.5" fill="#f4898b"/>
<rect x="356.5" y="272.28" width="9" height="6.4" rx="1.5" fill="#f4898b"/>
<rect x="379.3" y="259.72" width="9" height="6.4" rx="1.5" fill="#f4898b"/>
<rect x="402.1" y="245" width="9" height="6.4" rx="1.5" fill="#f4898b"/>
<rect x="424.9" y="232.84" width="9" height="6.4" rx="1.5" fill="#f4898b"/>
<rect x="447.7" y="219.56" width="9" height="6.4" rx="1.5" fill="#f4898b"/>
<rect x="470.5" y="207.08" width="9" height="6.4" rx="1.5" fill="#f4898b"/>
<rect x="493.3" y="195.8" width="9" height="6.4" rx="1.5" fill="#f4898b"/>
<rect x="516.1" y="185" width="9" height="6.4" rx="1.5" fill="#f4898b"/>
<text x="269.8" y="336.9" font-size="6.6" fill="#222" text-anchor="middle">0.8562</text>
<text x="292.6" y="322.5" font-size="6.6" fill="#222" text-anchor="middle">0.85842</text>
<text x="315.4" y="307.7" font-size="6.6" fill="#222" text-anchor="middle">0.85999</text>
<text x="338.2" y="292.66" font-size="6.6" fill="#222" text-anchor="middle">0.86173</text>
<text x="361" y="277.78" font-size="6.6" fill="#222" text-anchor="middle">0.86359</text>
<text x="383.8" y="265.22" font-size="6.6" fill="#222" text-anchor="middle">0.86516</text>
<text x="406.6" y="250.5" font-size="6.6" fill="#222" text-anchor="middle">0.867</text>
<text x="429.4" y="238.34" font-size="6.6" fill="#222" text-anchor="middle">0.86852</text>
<text x="452.2" y="225.06" font-size="6.6" fill="#222" text-anchor="middle">0.87018</text>
<text x="475" y="212.58" font-size="6.6" fill="#222" text-anchor="middle">0.87174</text>
<text x="497.8" y="201.3" font-size="6.6" fill="#222" text-anchor="middle">0.87315</text>
<text x="520.6" y="190.5" font-size="6.6" fill="#222" text-anchor="middle">0.8745</text>
</g>
<g stroke="#6a6a6a" stroke-width="1.2" fill="none">
<rect x="277.5" y="180.9" width="231.5" height="184.6"/>
<line x1="274.3" y1="184.2" x2="277.5" y2="184.2"/>
<line x1="274.3" y1="224.2" x2="277.5" y2="224.2"/>
<line x1="274.3" y1="264.2" x2="277.5" y2="264.2"/>
<line x1="274.3" y1="304.2" x2="277.5" y2="304.2"/>
<line x1="274.3" y1="344.2" x2="277.5" y2="344.2"/>
<line x1="275.8" y1="204.2" x2="277.5" y2="204.2"/>
<line x1="275.8" y1="244.2" x2="277.5" y2="244.2"/>
<line x1="275.8" y1="284.2" x2="277.5" y2="284.2"/>
<line x1="275.8" y1="324.2" x2="277.5" y2="324.2"/>
<line x1="275.8" y1="364.2" x2="277.5" y2="364.2"/>
<line x1="292.6" y1="365.5" x2="292.6" y2="368.7"/>
<line x1="315.4" y1="365.5" x2="315.4" y2="368.7"/>
<line x1="338.2" y1="365.5" x2="338.2" y2="368.7"/>
<line x1="361" y1="365.5" x2="361" y2="368.7"/>
<line x1="383.8" y1="365.5" x2="383.8" y2="368.7"/>
<line x1="406.6" y1="365.5" x2="406.6" y2="368.7"/>
<line x1="429.4" y1="365.5" x2="429.4" y2="368.7"/>
<line x1="452.2" y1="365.5" x2="452.2" y2="368.7"/>
<line x1="475" y1="365.5" x2="475" y2="368.7"/>
<line x1="497.8" y1="365.5" x2="497.8" y2="368.7"/>
<line x1="281.2" y1="365.5" x2="281.2" y2="367.3"/>
<line x1="304" y1="365.5" x2="304" y2="367.3"/>
<line x1="326.8" y1="365.5" x2="326.8" y2="367.3"/>
<line x1="349.6" y1="365.5" x2="349.6" y2="367.3"/>
<line x1="372.4" y1="365.5" x2="372.4" y2="367.3"/>
<line x1="395.2" y1="365.5" x2="395.2" y2="367.3"/>
<line x1="418" y1="365.5" x2="418" y2="367.3"/>
<line x1="440.8" y1="365.5" x2="440.8" y2="367.3"/>
<line x1="463.6" y1="365.5" x2="463.6" y2="367.3"/>
<line x1="486.4" y1="365.5" x2="486.4" y2="367.3"/>
</g>
<text x="271.6" y="186.8" font-size="7.4" fill="#666" text-anchor="end">0. 875</text>
<text x="271.6" y="226.8" font-size="7.4" fill="#666" text-anchor="end">0. 870</text>
<text x="271.6" y="266.8" font-size="7.4" fill="#666" text-anchor="end">0. 865</text>
<text x="271.6" y="306.8" font-size="7.4" fill="#666" text-anchor="end">0. 860</text>
<text x="271.6" y="346.8" font-size="7.4" fill="#666" text-anchor="end">0. 855</text>
<text x="293.3" y="382.4" font-size="7.4" fill="#6a6a6a" text-anchor="middle">88</text>
<text x="316.1" y="382.4" font-size="7.4" fill="#6a6a6a" text-anchor="middle">89</text>
<text x="338.9" y="382.4" font-size="7.4" fill="#6a6a6a" text-anchor="middle">90</text>
<text x="361.7" y="382.4" font-size="7.4" fill="#6a6a6a" text-anchor="middle">91</text>
<text x="384.5" y="382.4" font-size="7.4" fill="#6a6a6a" text-anchor="middle">92</text>
<text x="407.3" y="382.4" font-size="7.4" fill="#6a6a6a" text-anchor="middle">93</text>
<text x="430.1" y="382.4" font-size="7.4" fill="#6a6a6a" text-anchor="middle">94</text>
<text x="452.9" y="382.4" font-size="7.4" fill="#6a6a6a" text-anchor="middle">95</text>
<text x="475.7" y="382.4" font-size="7.4" fill="#6a6a6a" text-anchor="middle">96</text>
<text x="498.5" y="382.4" font-size="7.4" fill="#6a6a6a" text-anchor="middle">97</text>
<text x="392.7" y="390.3" font-size="8.8" fill="#333" text-anchor="middle">sample size (%)</text>
<text transform="translate(250.2,273.2) rotate(-90)" font-size="9" fill="#333" text-anchor="middle">accuracy</text>
</svg></body></html>
